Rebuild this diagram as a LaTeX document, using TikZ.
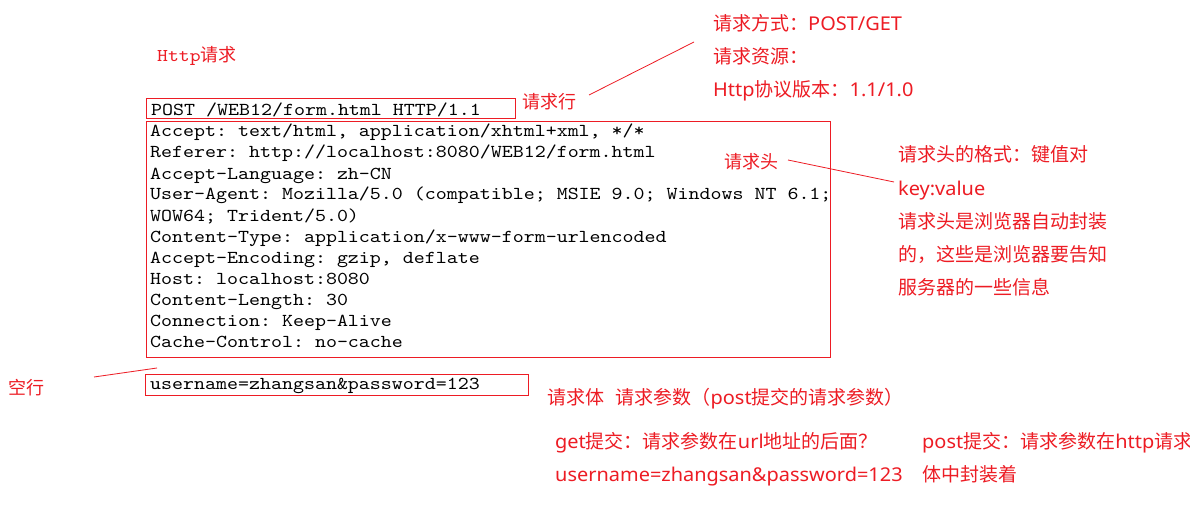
\documentclass[tikz,border=0pt]{standalone}
\usepackage{fontspec}
\setmonofont{lmmono10-regular.otf}[FakeStretch=1.15]
\newfontfamily\cjk{Noto Sans CJK SC}
\newfontfamily\lat{Noto Sans}[FakeStretch=1.05]
\definecolor{anno}{RGB}{237,28,36}
\begin{document}
\begin{tikzpicture}[x=1pt,y=-1pt,
  redbox/.style={draw=anno, line width=0.9pt, rectangle, inner sep=0pt, anchor=north west},
  code/.style={anchor=base west, inner sep=0pt, text=black, font=\ttfamily\fontsize{18.2}{21}\selectfont},
  lbl/.style={anchor=base west, inner sep=0pt, text=anno, font=\cjk\fontsize{18}{18}\selectfont},
  note/.style={anchor=base west, inner sep=0pt, text=anno, font=\cjk\fontsize{19}{19}\selectfont},
  link/.style={draw=anno, line width=0.8pt}]
\useasboundingbox (0,0) rectangle (1190,513);
\fill[white] (0,0) rectangle (1190,513);

% boxes
\node[redbox, minimum width=369pt, minimum height=20pt] (rlbox) at (146,98) {};
\node[redbox, minimum width=684pt, minimum height=236pt] (hdbox) at (146,121) {};
\node[redbox, minimum width=383pt, minimum height=21pt] (bdbox) at (145,374) {};

% request line
\node[code] (rl) at (151,116) {POST /WEB12/form.html HTTP/1.1};

% headers
\node[code] (h1) at (150,137) {Accept: text/html, application/xhtml+xml, */*};
\node[code] (h2) at (150,158) {Referer: http://localhost:8080/WEB12/form.html};
\node[code] (h3) at (150,179) {Accept-Language: zh-CN};
\node[code] (h4) at (150,200) {User-Agent: Mozilla/5.0 (compatible; MSIE 9.0; Windows NT 6.1;};
\node[code] (h5) at (150,221) {WOW64; Trident/5.0)};
\node[code] (h6) at (150,242) {Content-Type: application/x-www-form-urlencoded};
\node[code] (h7) at (150,263) {Accept-Encoding: gzip, deflate};
\node[code] (h8) at (150,284) {Host: localhost:8080};
\node[code] (h9) at (150,305) {Content-Length: 30};
\node[code] (h10) at (150,326) {Connection: Keep-Alive};
\node[code] (h11) at (150,347) {Cache-Control: no-cache};

% body
\node[code] (bd) at (150,389) {username=zhangsan\&password=123};

% labels
\node[lbl] (title) at (157,62) {{\ttfamily Http}请求};
\node[lbl] (lblrl) at (522,109) {请求行};
\node[lbl] (lblhd) at (724,168) {请求头};
\node[lbl] (lblempty) at (8,394) {空行};

% request-line notes
\node[note] (n1) at (713,31) {请求方式：{\lat POST/GET}};
\node[note] (n2) at (713,64) {请求资源：};
\node[note] (n3) at (713,97) {{\lat Http}协议版本：{\lat 1.1/1.0}};

% header notes
\node[note] (m1) at (898,162) {请求头的格式：键值对};
\node[note] (m2) at (898,195) {{\lat key:value}};
\node[note] (m3) at (898,228) {请求头是浏览器自动封装};
\node[note] (m4) at (898,261) {的，这些是浏览器要告知};
\node[note] (m5) at (898,294) {服务器的一些信息};

% body notes
\node[note] (b1) at (547,404) {请求体\hspace{0.6em}请求参数（{\lat post}提交的请求参数）};
\node[note] (b2) at (555,448) {{\lat get}提交：请求参数在{\lat url}地址的后面？};
\node[note] (b3) at (555,481) {{\lat username=zhangsan\&password=123}};
\node[note] (b4) at (922,448) {{\lat post}提交：请求参数在{\lat http}请求};
\node[note] (b5) at (922,481) {体中封装着};

% connectors
\coordinate (c1a) at (589,95);
\coordinate (c1b) at (694,42);
\draw[link] (c1a) -- (c1b);
\coordinate (c2a) at (788,160);
\coordinate (c2b) at (894,182);
\draw[link] (c2a) -- (c2b);
\coordinate (c3a) at (94,377);
\coordinate (c3b) at (157,368);
\draw[link] (c3a) -- (c3b);
\end{tikzpicture}
\end{document}
